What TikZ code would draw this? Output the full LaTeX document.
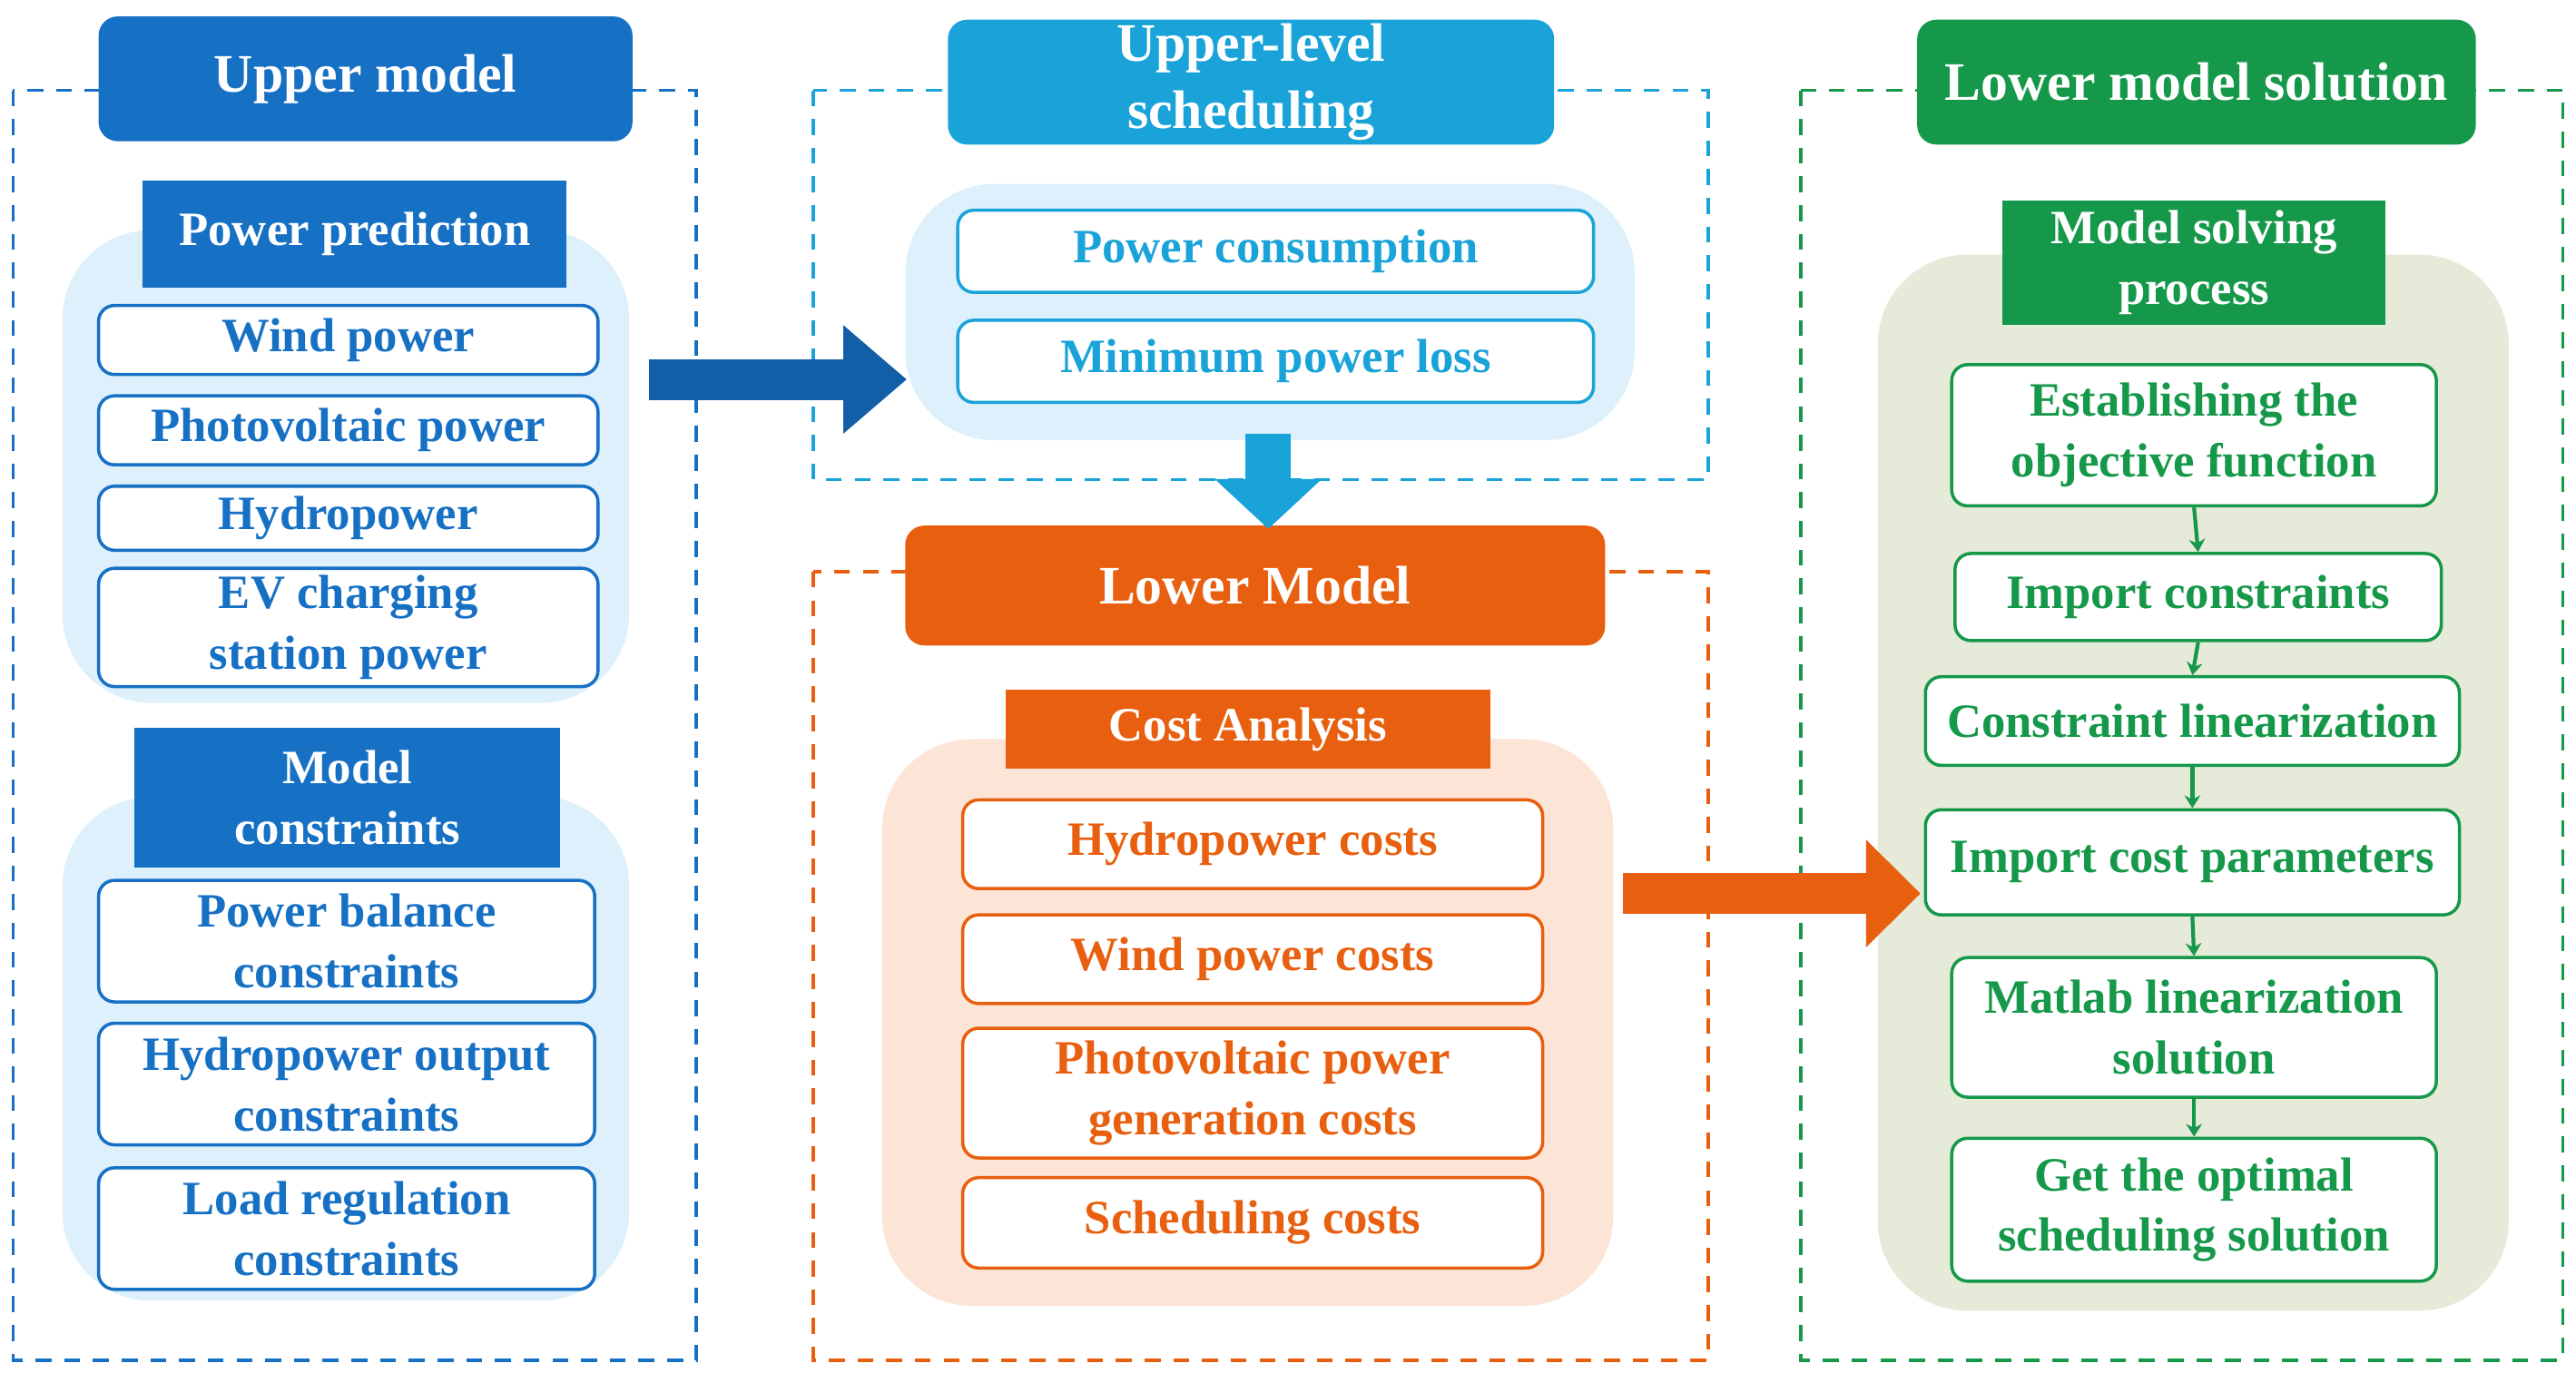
\documentclass[tikz,border=0pt]{standalone}
\usepackage{fontspec}
\setmainfont{Liberation Serif}
\usetikzlibrary{arrows.meta}
\definecolor{dblue}{HTML}{1670C4}
\definecolor{cblue}{HTML}{1AA3D9}
\definecolor{lblue}{HTML}{DDF0FB}
\definecolor{orng}{HTML}{E8600F}
\definecolor{lorng}{HTML}{FCE4D6}
\definecolor{grn}{HTML}{16984A}
\definecolor{lgrn}{HTML}{E5EBD8}
\newcommand\bx[7]{\pgfmathsetmacro\ww{(#4-#2)*0.0181}\pgfmathsetmacro\hh{(#5-#3)*0.0181}\node[#6,minimum width=\ww cm,minimum height=\hh cm] (#1) at ({(#2+#4)/2},{(#3+#5)/2}) {#7};}
\tikzset{
 base/.style={inner sep=0pt,align=center,font=\bfseries\fontsize{15}{19}\selectfont},
 head/.style={base,rounded corners=6pt,text=white,font=\bfseries\fontsize{17}{21}\selectfont},
 sub/.style={base,text=white},
 panel/.style={rounded corners=28pt},
 item/.style={base,draw,fill=white,rounded corners=5pt,line width=1pt},
 dbox/.style={dashed,line width=1.1pt,dash pattern=on 5pt off 4pt},
 ar/.style={-{Stealth[length=4pt,width=5pt]},line width=1.2pt,grn}
}
\begin{document}
\begin{tikzpicture}[x=0.0181cm,y=-0.0181cm]
\useasboundingbox (0,0) rectangle (1568,842);
% left
\draw[dbox,dblue] (8,55) rectangle (424,828);
\bx{um}{60}{10}{385}{86}{head,fill=dblue}{Upper model}
\fill[lblue,panel] (38,140) rectangle (383,428);
\bx{pp}{87}{110}{345}{175}{sub,fill=dblue}{Power prediction}
\bx{w1}{60}{186}{364}{228}{item,draw=dblue,text=dblue}{Wind power}
\bx{w2}{60}{241}{364}{283}{item,draw=dblue,text=dblue}{Photovoltaic power}
\bx{w3}{60}{296}{364}{335}{item,draw=dblue,text=dblue}{Hydropower}
\bx{w4}{60}{346}{364}{418}{item,draw=dblue,text=dblue}{EV charging\\station power}
\fill[lblue,panel] (38,485) rectangle (383,792);
\bx{mc}{82}{443}{341}{528}{sub,fill=dblue}{Model\\constraints}
\bx{c1}{60}{536}{362}{610}{item,draw=dblue,text=dblue}{Power balance\\constraints}
\bx{c2}{60}{623}{362}{697}{item,draw=dblue,text=dblue}{Hydropower output\\constraints}
\bx{c3}{60}{711}{362}{785}{item,draw=dblue,text=dblue}{Load regulation\\constraints}
% middle top
\draw[dbox,cblue] (495,55) rectangle (1040,292);
\bx{ul}{577}{12}{946}{88}{head,fill=cblue}{Upper-level\\scheduling}
\fill[lblue,panel] (551,112) rectangle (995,268);
\bx{u1}{583}{128}{970}{178}{item,draw=cblue,text=cblue}{Power consumption}
\bx{u2}{583}{195}{970}{245}{item,draw=cblue,text=cblue}{Minimum power loss}
% middle bottom
\draw[dbox,orng] (495,348) rectangle (1040,828);
\fill[lorng,panel] (537,450) rectangle (982,795);
\bx{lm}{551}{320}{977}{393}{head,fill=orng}{Lower Model}
\bx{ca}{612}{420}{907}{468}{sub,fill=orng}{Cost Analysis}
\bx{o1}{586}{487}{939}{541}{item,draw=orng,text=orng}{Hydropower costs}
\bx{o2}{586}{557}{939}{611}{item,draw=orng,text=orng}{Wind power costs}
\bx{o3}{586}{626}{939}{705}{item,draw=orng,text=orng}{Photovoltaic power\\generation costs}
\bx{o4}{586}{717}{939}{772}{item,draw=orng,text=orng}{Scheduling costs}
% right
\draw[dbox,grn] (1096,55) rectangle (1560,828);
\bx{lms}{1167}{12}{1507}{88}{head,fill=grn}{Lower model solution}
\fill[lgrn,panel] (1143,155) rectangle (1527,798);
\bx{msp}{1219}{122}{1452}{198}{sub,fill=grn}{Model solving\\process}
\bx{g1}{1188}{222}{1483}{308}{item,draw=grn,text=grn}{Establishing the\\objective function}
\bx{g2}{1190}{337}{1486}{390}{item,draw=grn,text=grn}{Import constraints}
\bx{g3}{1172}{412}{1497}{466}{item,draw=grn,text=grn}{Constraint linearization}
\bx{g4}{1172}{493}{1497}{557}{item,draw=grn,text=grn}{Import cost parameters}
\bx{g5}{1188}{583}{1483}{668}{item,draw=grn,text=grn}{Matlab linearization\\solution}
\bx{g6}{1188}{693}{1483}{780}{item,draw=grn,text=grn}{Get the optimal\\scheduling solution}
\draw[ar] (g1.south) -- (g2.north);
\draw[ar] (g2.south) -- (g3.north);
\draw[ar] (g3.south) -- (g4.north);
\draw[ar] (g4.south) -- (g5.north);
\draw[ar] (g5.south) -- (g6.north);
% big arrows
\coordinate (a1) at (395,231);
\coordinate (a2) at (552,231);
\draw[line width=0.45cm,dblue!85!black,-{Triangle[length=0.7cm,width=1.15cm]}] (a1) -- (a2);
\coordinate (b1) at (772,264);
\coordinate (b2) at (772,322);
\draw[line width=0.5cm,cblue,-{Triangle[length=0.55cm,width=1.15cm]}] (b1) -- (b2);
\coordinate (c1) at (988,544);
\coordinate (c2) at (1169,544);
\draw[line width=0.45cm,orng,-{Triangle[length=0.6cm,width=1.15cm]}] (c1) -- (c2);
\end{tikzpicture}
\end{document}
